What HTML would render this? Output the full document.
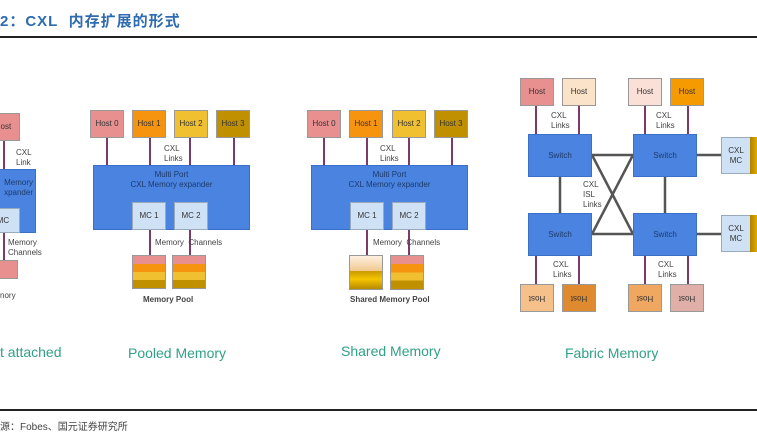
<!DOCTYPE html>
<html><head><meta charset="utf-8"><style>
*{margin:0;padding:0;box-sizing:border-box}
body{width:757px;height:440px;background:#fff;position:relative;overflow:hidden;font-family:"Liberation Sans",sans-serif}
.a{position:absolute}
.b{position:absolute;display:flex;align-items:center;justify-content:center;font-size:8px;color:#333;border:1px solid #999;text-align:center;line-height:1.2}
.blue{background:#4a84e0;border:1px solid #3a70c8;color:#1e3a6a}
.mc{background:#cfe2f5;border:1px solid #9ab}
.v{position:absolute;width:2px;background:#7a3a6a}
.t{position:absolute;font-size:8px;color:#444;line-height:10px}
.g{position:absolute;font-size:14px;color:#30a088;white-space:nowrap}
</style></head><body>
<div class="a" style="left:0;top:10px;font-size:15px;font-weight:bold;color:#2e6bb0;letter-spacing:1px;font-family:'Liberation Sans','Noto Sans CJK SC',sans-serif">2：CXL&nbsp; 内存扩展的形式</div>
<div class="a" style="left:0;top:36px;width:757px;height:2px;background:#222"></div>
<div class="a" style="left:0;top:409px;width:757px;height:2px;background:#222"></div>
<div class="a" style="left:0;top:418px;font-size:10px;color:#444;font-family:'Liberation Sans','Noto Sans CJK SC',sans-serif">源：Fobes、国元证券研究所</div>

<!-- left partial -->
<div class="v" style="left:3px;top:140px;height:30px"></div>
<div class="b" style="left:-14px;top:113px;width:34px;height:28px;background:#e89090">Host</div>
<div class="t" style="left:16px;top:148px">CXL<br>Link</div>
<div class="b blue" style="left:-60px;top:169px;width:96px;height:64px;align-items:flex-start;padding-top:8px;justify-content:flex-end;padding-right:2px">Memory<br>xpander</div>
<div class="b mc" style="left:-14px;top:208px;width:34px;height:25px">MC</div>
<div class="v" style="left:3px;top:233px;height:28px"></div>
<div class="t" style="left:8px;top:238px">Memory<br>Channels</div>
<div class="b" style="left:-14px;top:260px;width:32px;height:19px;background:#e89090"></div>
<div class="t" style="left:0;top:291px">nory</div>
<div class="g" style="left:0;top:344px">t attached</div>

<!-- pooled -->
<div class="v" style="left:106px;top:136px;height:30px"></div>
<div class="v" style="left:149px;top:136px;height:30px"></div>
<div class="v" style="left:189px;top:136px;height:30px"></div>
<div class="v" style="left:233px;top:136px;height:30px"></div>
<div class="b" style="left:90px;top:110px;width:34px;height:28px;background:#e89090">Host 0</div>
<div class="b" style="left:132px;top:110px;width:34px;height:28px;background:#f7940f">Host 1</div>
<div class="b" style="left:174px;top:110px;width:34px;height:28px;background:#f0c030">Host 2</div>
<div class="b" style="left:216px;top:110px;width:34px;height:28px;background:#c09000">Host 3</div>
<div class="t" style="left:164px;top:144px">CXL<br>Links</div>
<div class="b blue" style="left:93px;top:165px;width:157px;height:65px;align-items:flex-start;padding-top:4px">Multi Port<br>CXL Memory expander</div>
<div class="b mc" style="left:132px;top:202px;width:34px;height:28px">MC 1</div>
<div class="b mc" style="left:174px;top:202px;width:34px;height:28px">MC 2</div>
<div class="v" style="left:149px;top:230px;height:26px"></div>
<div class="v" style="left:189px;top:230px;height:26px"></div>
<div class="t" style="left:155px;top:238px">Memory&nbsp; Channels</div>
<div class="a" style="left:132px;top:255px;width:34px;height:34px;border:1px solid #999;background:linear-gradient(#e89090 0 25%,#f7940f 25% 50%,#f0c030 50% 75%,#c09000 75%)"></div>
<div class="a" style="left:172px;top:255px;width:34px;height:34px;border:1px solid #999;background:linear-gradient(#e89090 0 25%,#f7940f 25% 50%,#f0c030 50% 75%,#c09000 75%)"></div>
<div class="t" style="left:143px;top:295px;font-weight:bold">Memory Pool</div>
<div class="g" style="left:128px;top:345px">Pooled Memory</div>

<!-- shared -->
<div class="v" style="left:323px;top:136px;height:30px"></div>
<div class="v" style="left:366px;top:136px;height:30px"></div>
<div class="v" style="left:408px;top:136px;height:30px"></div>
<div class="v" style="left:451px;top:136px;height:30px"></div>
<div class="b" style="left:307px;top:110px;width:34px;height:28px;background:#e89090">Host 0</div>
<div class="b" style="left:349px;top:110px;width:34px;height:28px;background:#f7940f">Host 1</div>
<div class="b" style="left:392px;top:110px;width:34px;height:28px;background:#f0c030">Host 2</div>
<div class="b" style="left:434px;top:110px;width:34px;height:28px;background:#c09000">Host 3</div>
<div class="t" style="left:380px;top:144px">CXL<br>Links</div>
<div class="b blue" style="left:311px;top:165px;width:157px;height:65px;align-items:flex-start;padding-top:4px">Multi Port<br>CXL Memory expander</div>
<div class="b mc" style="left:350px;top:202px;width:34px;height:28px">MC 1</div>
<div class="b mc" style="left:392px;top:202px;width:34px;height:28px">MC 2</div>
<div class="v" style="left:366px;top:230px;height:26px"></div>
<div class="v" style="left:408px;top:230px;height:26px"></div>
<div class="t" style="left:373px;top:238px">Memory&nbsp; Channels</div>
<div class="a" style="left:349px;top:255px;width:34px;height:35px;border:1px solid #999;background:linear-gradient(#fdf0e0,#f2c890 45%,#c89800 45%,#f5c400 70%,#b88a00)"></div>
<div class="a" style="left:390px;top:255px;width:34px;height:35px;border:1px solid #999;background:linear-gradient(#e89090 0 25%,#f7940f 25% 50%,#f0c030 50% 75%,#c09000 75%)"></div>
<div class="t" style="left:350px;top:295px;font-weight:bold">Shared Memory Pool</div>
<div class="g" style="left:341px;top:343px">Shared Memory</div>

<!-- fabric -->
<svg class="a" style="left:0;top:0" width="757" height="440">
<g stroke="#555" stroke-width="2.5">
<line x1="592" y1="155" x2="633" y2="155"/><line x1="592" y1="234" x2="633" y2="234"/>
<line x1="592" y1="155" x2="633" y2="234"/><line x1="633" y1="155" x2="592" y2="234"/>
<line x1="560" y1="177" x2="560" y2="213"/><line x1="665" y1="177" x2="665" y2="213"/>
<line x1="697" y1="155" x2="721" y2="155"/><line x1="697" y1="234" x2="721" y2="234"/>
</g>
<g stroke="#7a3a6a" stroke-width="2">
<line x1="536" y1="105" x2="536" y2="134"/><line x1="579" y1="105" x2="579" y2="134"/>
<line x1="645" y1="105" x2="645" y2="134"/><line x1="688" y1="105" x2="688" y2="134"/>
<line x1="536" y1="256" x2="536" y2="284"/><line x1="579" y1="256" x2="579" y2="284"/>
<line x1="645" y1="256" x2="645" y2="284"/><line x1="688" y1="256" x2="688" y2="284"/>
</g></svg>
<div class="b" style="left:520px;top:78px;width:34px;height:28px;background:#e89090">Host</div>
<div class="b" style="left:562px;top:78px;width:34px;height:28px;background:#fae3c8">Host</div>
<div class="b" style="left:628px;top:78px;width:34px;height:28px;background:#fbe0d8">Host</div>
<div class="b" style="left:670px;top:78px;width:34px;height:28px;background:#f59a00">Host</div>
<div class="t" style="left:551px;top:111px">CXL<br>Links</div>
<div class="t" style="left:656px;top:111px">CXL<br>Links</div>
<div class="b blue" style="left:528px;top:134px;width:64px;height:43px">Switch</div>
<div class="b blue" style="left:633px;top:134px;width:64px;height:43px">Switch</div>
<div class="b blue" style="left:528px;top:213px;width:64px;height:43px">Switch</div>
<div class="b blue" style="left:633px;top:213px;width:64px;height:43px">Switch</div>
<div class="t" style="left:583px;top:180px">CXL<br>ISL<br>Links</div>
<div class="t" style="left:553px;top:260px">CXL<br>Links</div>
<div class="t" style="left:658px;top:260px">CXL<br>Links</div>
<div class="b mc" style="left:721px;top:137px;width:30px;height:37px">CXL<br>MC</div>
<div class="a" style="left:750px;top:137px;width:10px;height:37px;background:linear-gradient(90deg,#b08000,#f0c000)"></div>
<div class="b mc" style="left:721px;top:215px;width:30px;height:37px">CXL<br>MC</div>
<div class="a" style="left:750px;top:215px;width:10px;height:37px;background:linear-gradient(90deg,#b08000,#f0c000)"></div>
<div class="b" style="left:520px;top:284px;width:34px;height:28px;background:#f5c08a;transform:rotate(180deg)">Host</div>
<div class="b" style="left:562px;top:284px;width:34px;height:28px;background:#e08a30;transform:rotate(180deg)">Host</div>
<div class="b" style="left:628px;top:284px;width:34px;height:28px;background:#f0a860;transform:rotate(180deg)">Host</div>
<div class="b" style="left:670px;top:284px;width:34px;height:28px;background:#e0b0a8;transform:rotate(180deg)">Host</div>
<div class="g" style="left:565px;top:345px">Fabric Memory</div>
</body></html>
